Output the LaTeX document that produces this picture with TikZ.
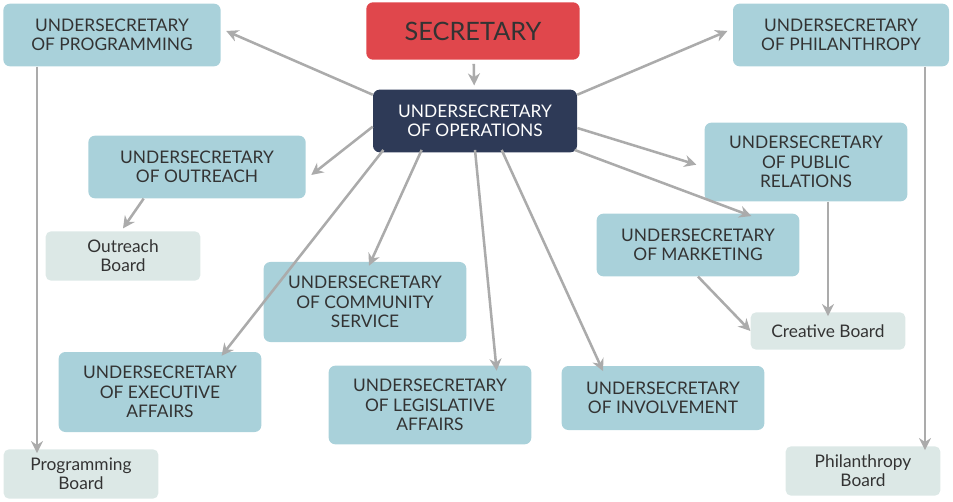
\documentclass[tikz,border=0pt]{standalone}
\usepackage{fontspec}
\setmainfont{Lato}
\usetikzlibrary{arrows.meta}
\definecolor{bx}{HTML}{A9D1DA}
\definecolor{lb}{HTML}{DCE8E6}
\definecolor{rd}{HTML}{E0474C}
\definecolor{nv}{HTML}{2E3A57}
\definecolor{tx}{HTML}{333333}
\definecolor{ar}{HTML}{ABABAB}
\begin{document}
\begin{tikzpicture}[x=0.75pt,y=-0.75pt,
 box/.style={fill=bx,rounded corners=5pt,text=tx,align=center,font=\fontsize{13}{14.5}\selectfont,inner sep=0pt},
 brd/.style={fill=lb,rounded corners=4pt,text=tx,align=center,font=\fontsize{13}{14.5}\selectfont,inner sep=0pt},
 con/.style={draw=ar,line width=1.9pt,-{Stealth[length=9pt,width=9pt]}}]
\useasboundingbox (0,0) rectangle (953,502);
\node[box,fill=rd,minimum width=160pt,minimum height=43pt,font=\fontsize{19}{20}\selectfont] (sec) at (473,31) {SECRETARY};
\node[box,fill=nv,text=white,minimum width=153pt,minimum height=47pt] (ops) at (475,121) {UNDERSECRETARY\\OF OPERATIONS};
\node[box,minimum width=163pt,minimum height=47pt] (prog) at (112,35) {UNDERSECRETARY\\OF PROGRAMMING};
\node[box,minimum width=162pt,minimum height=47pt] (phil) at (841,35) {UNDERSECRETARY\\OF PHILANTHROPY};
\node[box,minimum width=163pt,minimum height=47pt] (out) at (197,167) {UNDERSECRETARY\\OF OUTREACH};
\node[box,minimum width=152pt,minimum height=59pt] (pr) at (806,162) {UNDERSECRETARY\\OF PUBLIC\\RELATIONS};
\node[brd,minimum width=116pt,minimum height=37pt] (ob) at (123,256) {Outreach\\Board};
\node[box,minimum width=152pt,minimum height=47pt] (mk) at (698,245) {UNDERSECRETARY\\OF MARKETING};
\node[box,minimum width=152pt,minimum height=60pt] (cs) at (365,302) {UNDERSECRETARY\\OF COMMUNITY\\SERVICE};
\node[brd,minimum width=116pt,minimum height=28pt] (cb) at (828,331) {Creative Board};
\node[box,minimum width=152pt,minimum height=60pt] (ex) at (160,392) {UNDERSECRETARY\\OF EXECUTIVE\\AFFAIRS};
\node[box,minimum width=152pt,minimum height=59pt] (lg) at (430,405) {UNDERSECRETARY\\OF LEGISLATIVE\\AFFAIRS};
\node[box,minimum width=152pt,minimum height=48pt] (inv) at (663,398) {UNDERSECRETARY\\OF INVOLVEMENT};
\node[brd,minimum width=116pt,minimum height=37pt] (pb) at (81,474) {Programming\\Board};
\node[brd,minimum width=116pt,minimum height=37pt] (phb) at (863,471) {Philanthropy\\Board};
\draw[con,shorten <=3pt,shorten >=3pt] (sec) -- (ops);
\draw[con] ([yshift=-4pt]ops.north west) -- ([xshift=4pt,yshift=3pt]prog.east);
\draw[con] ([yshift=-4pt]ops.north east) -- ([xshift=-4pt,yshift=3pt]phil.west);
\draw[con] ([yshift=-2pt]ops.west |- 0,124) -- ([xshift=4pt,yshift=-6pt]out.east);
\draw[con] ([yshift=-3pt]ops.east |- 0,124) -- ([xshift=-6pt,yshift=-2pt]pr.west);
\draw[con] ([xshift=-2pt,yshift=2pt]ops.south east) -- ([xshift=40pt,yshift=-2pt]mk.north);
\draw[con] ([xshift=-40pt,yshift=2pt]ops.south) -- ([xshift=3pt,yshift=-3pt]cs.north);
\draw[con] ([xshift=8pt,yshift=2pt]ops.south west) -- ([xshift=-30pt,yshift=-3pt]ex.north east);
\draw[con] ([xshift=0pt,yshift=2pt]ops.south) -- ([xshift=50pt,yshift=-4pt]lg.north);
\draw[con] ([xshift=20pt,yshift=2pt]ops.south) -- ([xshift=-45pt,yshift=-4pt]inv.north);
\draw[con] ([xshift=-40pt]out.south) -- ([yshift=2pt]ob.north);
\draw[con] ([xshift=0pt]mk.south) -- ([yshift=0pt]cb.west);
\draw[con] (pr.south -| cb.north) -- ([yshift=-3pt]cb.north);
\draw[con] (prog.south -| 37,0) -- ([yshift=-3pt]pb.north -| 37,0);
\draw[con] (phil.south -| 925,0) -- ([yshift=-3pt]phb.north -| 925,0);
\end{tikzpicture}
\end{document}
